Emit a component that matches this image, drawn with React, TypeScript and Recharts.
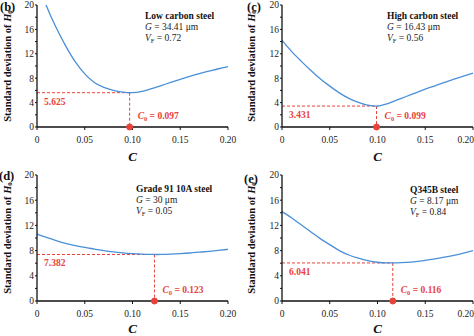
import React from 'react';
import { LineChart, Line, XAxis, YAxis, ReferenceLine, ReferenceDot } from 'recharts';

// carbon content C on the x axis
const C_STEPS = [0, 0.01, 0.02, 0.03, 0.04, 0.05, 0.06, 0.07, 0.08, 0.09, 0.1, 0.11, 0.12, 0.13, 0.14, 0.15, 0.16, 0.17, 0.18, 0.19, 0.2];

// standard deviation of H0
const LOW_CARBON = [24.0, 19.8, 16.3, 13.3, 10.7, 8.7, 7.3, 6.5, 6.0, 5.72, 5.63, 5.85, 6.3, 6.8, 7.3, 7.8, 8.3, 8.75, 9.15, 9.55, 9.9];
const HIGH_CARBON = [14.2, 12.4, 10.8, 9.3, 7.9, 6.7, 5.6, 4.7, 4.05, 3.57, 3.44, 3.8, 4.4, 5.0, 5.6, 6.2, 6.75, 7.3, 7.85, 8.35, 8.85];
const GRADE_91 = [10.6, 10.1, 9.6, 9.15, 8.8, 8.5, 8.25, 8.0, 7.8, 7.65, 7.53, 7.44, 7.39, 7.39, 7.44, 7.52, 7.62, 7.75, 7.88, 8.03, 8.2];
const Q345B = [14.2, 13.2, 12.1, 11.0, 9.9, 8.95, 8.0, 7.3, 6.8, 6.4, 6.15, 6.05, 6.05, 6.12, 6.25, 6.45, 6.7, 6.95, 7.25, 7.6, 8.0];

// optimum C0 and the minimum std deviation per steel
const OPTIMAL_C = [0.097, 0.099, 0.123, 0.116];
const MIN_STD = [5.625, 3.431, 7.382, 6.041];

const STEEL_NAMES = ['Low carbon steel', 'High carbon steel', 'Grade 91 10A steel', 'Q345B steel'];
const GRAIN_SIZES = ['34.41', '16.43', '30', '8.17'];
const FERRITE_FRACTIONS = ['0.72', '0.56', '0.05', '0.84'];
const PANEL_LETTERS = ['(b)', '(c)', '(d)', '(e)'];

const X_TICKS = [0, 0.05, 0.1, 0.15, 0.2];
const Y_TICKS = [0, 2, 4, 6, 8, 10, 12, 14, 16, 18, 20];

const SERIES = [LOW_CARBON, HIGH_CARBON, GRADE_91, Q345B];

const FONT = '"Liberation Serif", "Times New Roman", serif';
const BLUE = '#4a90d9';
const RED = '#e8423a';

// layout of the four panels (pixels)
const PANELS = [
  { left: 0, top: 0, yw: 37, right: 9, mTop: 5, xh: 41, xTitleDy: 34, yTitleDx: 7, letter: [0, 11], note: [145, 19] },
  { left: 237, top: 0, yw: 45, right: 1, mTop: 5, xh: 41, xTitleDy: 34, yTitleDx: 14, letter: [10, 11], note: [150, 19] },
  { left: 0, top: 168, yw: 37, right: 9, mTop: 7, xh: 35, xTitleDy: 32, yTitleDx: 7, letter: [-1, 12], note: [136, 24] },
  { left: 237, top: 168, yw: 45, right: 1, mTop: 7, xh: 35, xTitleDy: 32, yTitleDx: 14, letter: [7, 15], note: [173, 25] },
];

const buildData = (values: number[], c0: number, min: number) =>
  [...C_STEPS.map((c, i) => ({ c, v: values[i] })), { c: c0, v: min }].sort((a, b) => a.c - b.c);

const yTitle = (dx: number) => (props: any) => {
  const { x, y, height } = props.viewBox;
  const cx = x + dx;
  const cy = y + height / 2;
  return (
    <text
      x={cx}
      y={cy}
      transform={`rotate(-90, ${cx}, ${cy})`}
      textAnchor="middle"
      dominantBaseline="central"
      fontSize={10.5}
      fontWeight="bold"
      fontFamily={FONT}
      fill="#111"
    >
      Standard deviation of <tspan fontStyle="italic">H</tspan>
      <tspan fontSize={7} dy={3}>0</tspan>
    </text>
  );
};

const xTitle = (dy: number) => (props: any) => {
  const { x, y, width } = props.viewBox;
  return (
    <text x={x + width / 2} y={y + dy} textAnchor="middle" fontSize={13} fontWeight="bold" fontStyle="italic" fontFamily={FONT} fill="#111">
      C
    </text>
  );
};

function Panel({ index }: { index: number }) {
  const p = PANELS[index];
  const c0 = OPTIMAL_C[index];
  const min = MIN_STD[index];
  const data = buildData(SERIES[index], c0, min);

  return (
    <div style={{ position: 'absolute', left: p.left, top: p.top, width: 237, height: 168 }}>
      <LineChart width={237} height={168} data={data} margin={{ top: p.mTop, right: p.right, bottom: 0, left: 0 }}>
        <XAxis
          dataKey="c"
          type="number"
          domain={[0, 0.2]}
          ticks={X_TICKS}
          tickFormatter={(v: number) => (v === 0 ? '0' : v.toFixed(2))}
          height={p.xh}
          tick={{ fontSize: 9.5, fill: '#222', fontFamily: FONT }}
          tickSize={3}
          tickMargin={6}
          axisLine={{ stroke: '#111', strokeWidth: 1.3 }}
          tickLine={{ stroke: '#111' }}
          label={xTitle(p.xTitleDy)}
        />
        <YAxis
          type="number"
          domain={[0, 20]}
          allowDataOverflow
          ticks={Y_TICKS}
          interval={0}
          tickFormatter={(v: number) => (v % 4 === 0 ? String(v) : '')}
          width={p.yw}
          tick={{ fontSize: 9.5, fill: '#222', fontFamily: FONT }}
          tickSize={2}
          tickMargin={1}
          axisLine={{ stroke: '#111', strokeWidth: 1.3 }}
          tickLine={{ stroke: '#111' }}
          label={yTitle(p.yTitleDx)}
        />
        <ReferenceLine
          segment={[{ x: 0, y: min }, { x: c0, y: min }]}
          stroke={RED}
          strokeDasharray="3 2"
          label={(lp: any) => (
            <text x={lp.viewBox.x + 7} y={lp.viewBox.y + 12} fontSize={9.5} fontWeight="bold" fontFamily={FONT} fill={RED}>
              {min.toFixed(3)}
            </text>
          )}
        />
        <ReferenceLine
          segment={[{ x: c0, y: min }, { x: c0, y: 0 }]}
          stroke={RED}
          strokeDasharray="3 2"
          label={(lp: any) => (
            <text x={lp.viewBox.x + 8} y={lp.viewBox.y + lp.viewBox.height - 8} fontSize={9.5} fontWeight="bold" fontFamily={FONT} fill={RED}>
              <tspan fontStyle="italic">C</tspan>
              <tspan fontSize={6.5} dy={2}>0</tspan>
              <tspan dy={-2}>{` = ${c0.toFixed(3)}`}</tspan>
            </text>
          )}
        />
        <Line type="monotone" dataKey="v" stroke={BLUE} strokeWidth={1.3} dot={false} isAnimationActive={false} />
        <ReferenceDot x={c0} y={0} r={3} fill={RED} stroke={RED} />
      </LineChart>
      <svg width={237} height={168} style={{ position: 'absolute', left: 0, top: 0, pointerEvents: 'none', overflow: 'visible' }}>
        <text x={p.letter[0]} y={p.letter[1]} fontSize={12.5} fontWeight="bold" fontFamily={FONT} fill="#111">
          {PANEL_LETTERS[index]}
        </text>
        <g fontFamily={FONT} fontSize={9.5} fill="#222">
          <text x={p.note[0]} y={p.note[1]} fontWeight="bold" fill="#111">
            {STEEL_NAMES[index]}
          </text>
          <text x={p.note[0]} y={p.note[1] + 11}>
            <tspan fontStyle="italic">G</tspan>
            {` = ${GRAIN_SIZES[index]} μm`}
          </text>
          <text x={p.note[0]} y={p.note[1] + 21.5}>
            <tspan fontStyle="italic">V</tspan>
            <tspan fontSize={6.5} dy={2}>F</tspan>
            <tspan dy={-2}>{` = ${FERRITE_FRACTIONS[index]}`}</tspan>
          </text>
        </g>
      </svg>
    </div>
  );
}

export default function App() {
  return (
    <div style={{ position: 'absolute', left: 0, top: 0, width: 474, height: 336, overflow: 'hidden', background: '#fff' }}>
      {PANELS.map((_, i) => (
        <Panel key={i} index={i} />
      ))}
    </div>
  );
}
